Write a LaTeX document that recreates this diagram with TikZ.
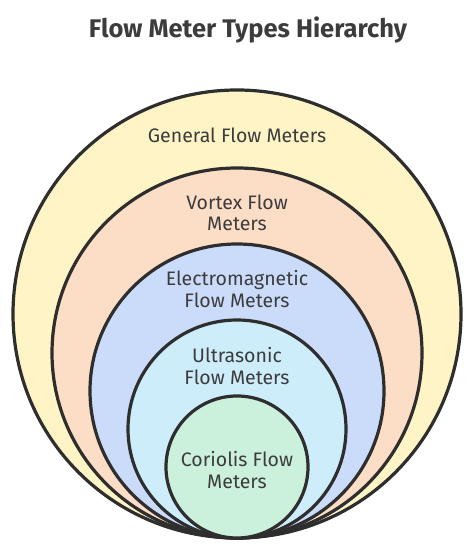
\documentclass[tikz,border=0pt]{standalone}
\usepackage{fontspec}
\setmainfont{Fira Sans}
\definecolor{cyel}{HTML}{FFF4C6}
\definecolor{cpea}{HTML}{FCDDC6}
\definecolor{cblu}{HTML}{CBDCFB}
\definecolor{ccya}{HTML}{CDEDFB}
\definecolor{cmin}{HTML}{CBF0DC}
\definecolor{cink}{HTML}{2E2E2E}
\definecolor{ctxt}{HTML}{3C3C3C}
\begin{document}
\begin{tikzpicture}[x=1pt,y=1pt,
  ring/.style={draw=cink,line width=3.2pt},
  lbl/.style={text=ctxt,font=\fontsize{19.5}{21.5}\selectfont,align=center,inner sep=0pt},
  ttl/.style={text=ctxt,font=\fontsize{25.5}{28}\selectfont\bfseries,inner sep=0pt}]
\useasboundingbox (0,0) rectangle (474,553);
\fill[white] (0,0) rectangle (474,553);
\draw[ring,fill=cyel] (237,239) circle (224);
\draw[ring,fill=cpea] (237,200) circle (185);
\draw[ring,fill=cblu] (237,162) circle (147);
\draw[ring,fill=ccya] (237,124) circle (109);
\draw[ring,fill=cmin] (237,86) circle (71);
\node[ttl] (title) at (248,523) {Flow Meter Types Hierarchy};
\node[lbl] (gen) at (237,418) {General Flow Meters};
\node[lbl] (vor) at (237,340) {Vortex Flow\\Meters};
\node[lbl] (em) at (237,264) {Electromagnetic\\Flow Meters};
\node[lbl] (ult) at (237,187) {Ultrasonic\\Flow Meters};
\node[lbl] (cor) at (237,83) {Coriolis Flow\\Meters};
\end{tikzpicture}
\end{document}
